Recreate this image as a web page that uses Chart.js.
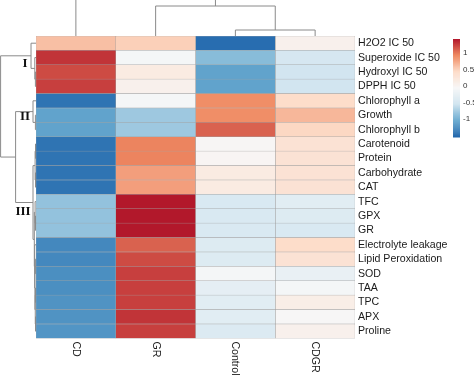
<!DOCTYPE html>
<html>
<head>
<meta charset="utf-8">
<script src="https://cdn.jsdelivr.net/npm/chart.js@4.4.0/dist/chart.umd.min.js"></script>
<style>
  html, body { margin: 0; padding: 0; background: #fff; }
</style>
</head>
<body>
<canvas id="heatmap" width="474" height="375"></canvas>
<script>
const rowLabels = [
  "H2O2 IC 50", "Superoxide IC 50", "Hydroxyl IC 50", "DPPH IC 50",
  "Chlorophyll a", "Growth", "Chlorophyll b", "Carotenoid", "Protein",
  "Carbohydrate", "CAT", "TFC", "GPX", "GR", "Electrolyte leakage",
  "Lipid Peroxidation", "SOD", "TAA", "TPC", "APX", "Proline"
];
const colLabels = ["CD", "GR", "Control", "CDGR"];

// scaled values, one array per column
const cdValues = [0.6, 1.3, 1.2, 1.25, -1.45, -1.1, -1.1, -1.45, -1.45, -1.45, -1.45,
  -0.85, -0.85, -0.85, -1.3, -1.3, -1.25, -1.25, -1.22, -1.22, -1.2];
const grValues = [0.5, -0.1, 0.15, 0.05, -0.1, -0.8, -0.8, 0.95, 0.95, 0.8, 0.8,
  1.42, 1.42, 1.42, 1.1, 1.2, 1.25, 1.25, 1.25, 1.3, 1.25];
const controlValues = [-1.5, -0.9, -1.1, -1.1, 0.9, 0.9, 1.1, -0.03, -0.02, 0.15, 0.15,
  -0.45, -0.45, -0.45, -0.4, -0.4, -0.1, -0.3, -0.35, -0.35, -0.42];
const cdgrValues = [0.05, -0.5, -0.55, -0.55, 0.4, 0.65, 0.45, 0.3, 0.3, 0.3, 0.3,
  -0.35, -0.4, -0.45, 0.4, 0.3, -0.25, -0.1, 0.1, -0.05, 0.05];

const legendTicks = [1, 0.5, 0, -0.5, -1];
const valueMin = -1.55;
const valueMax = 1.42;

// clustering trees: [left, right, height], leaves are indices
const colTree = [0, [1, [2, 3, 1.0], 5.0], 6.3];
const rowTree = [
  [0, [1, [2, 3, 0.1], 0.2], 0.83],
  [
    [4, [5, 6, 0.1], 0.5],
    [
      [[7, 8, 0.08], [9, 10, 0.08], 0.15],
      [
        [11, [12, 13, 0.08], 0.15],
        [14, [[15, 16, 0.1], [[17, 18, 0.08], [19, 20, 0.08], 0.12], 0.18], 0.22],
        0.28
      ],
      0.5
    ],
    3.4
  ],
  5.9
];

const palette = ["#2166AC", "#67A9CF", "#D1E5F0", "#F7F7F7", "#FDDBC7", "#EF8A62", "#B2182B"];

function hexToRgb(h) {
  return [parseInt(h.slice(1, 3), 16), parseInt(h.slice(3, 5), 16), parseInt(h.slice(5, 7), 16)];
}

function valueColor(v) {
  let t = (v - valueMin) / (valueMax - valueMin);
  t = Math.max(0, Math.min(1, t));
  const pos = t * (palette.length - 1);
  const i = Math.min(Math.floor(pos), palette.length - 2);
  const f = pos - i;
  const a = hexToRgb(palette[i]), b = hexToRgb(palette[i + 1]);
  const c = a.map((x, k) => Math.round(x + (b[k] - x) * f));
  return "rgb(" + c.join(",") + ")";
}

const columns = [cdValues, grValues, controlValues, cdgrValues];
const textFont = "Liberation Sans";

// draws a dendrogram, returns position of the node
function drawTree(ctx, node, leafPos, hPos) {
  if (typeof node === "number") return { p: leafPos(node), h: 0 };
  const a = drawTree(ctx, node[0], leafPos, hPos);
  const b = drawTree(ctx, node[1], leafPos, hPos);
  const h = node[2];
  ctx.beginPath();
  const seg = (p1, h1, p2, h2) => {
    const s = hPos(p1, h1), e = hPos(p2, h2);
    ctx.moveTo(s[0], s[1]);
    ctx.lineTo(e[0], e[1]);
  };
  seg(a.p, h, b.p, h);
  seg(a.p, h, a.p, a.h);
  seg(b.p, h, b.p, b.h);
  ctx.stroke();
  return { p: (a.p + b.p) / 2, h: h };
}

const extras = {
  id: "extras",
  afterDraw(chart) {
    const ctx = chart.ctx;
    const area = chart.chartArea;
    const xs = chart.scales.x, ys = chart.scales.y;
    ctx.save();

    // dendrograms
    ctx.strokeStyle = "#8a8a8a";
    ctx.lineWidth = 1;
    const k = 6;
    drawTree(ctx, colTree,
      (i) => xs.getPixelForValue(i + 0.5),
      (p, h) => [p, area.top - h * k]);
    drawTree(ctx, rowTree,
      (i) => ys.getPixelForValue(i),
      (p, h) => [area.left - h * k, p]);

    // cluster numerals
    ctx.fillStyle = "#111";
    ctx.font = "bold 13px 'Liberation Serif'";
    ctx.textAlign = "center";
    ctx.textBaseline = "middle";
    ctx.fillText("I", 25, ys.getPixelForValue(1.4));
    ctx.fillText("II", 25, ys.getPixelForValue(5.1));
    ctx.fillText("III", 23, ys.getPixelForValue(11.7));

    // column labels
    ctx.fillStyle = "#1a1a1a";
    ctx.font = "10.6px '" + textFont + "'";
    ctx.textAlign = "left";
    colLabels.forEach((lab, j) => {
      ctx.save();
      ctx.translate(xs.getPixelForValue(j + 0.5), area.bottom + 3);
      ctx.rotate(Math.PI / 2);
      ctx.fillText(lab, 0, 0);
      ctx.restore();
    });

    // colour key
    const kx = 453, ky = 39, kw = 7, kh = 98;
    const steps = 100;
    for (let s = 0; s < steps; s++) {
      const v = valueMax - (s + 0.5) / steps * (valueMax - valueMin);
      ctx.fillStyle = valueColor(v);
      ctx.fillRect(kx, ky + s * kh / steps, kw, kh / steps + 0.5);
    }
    ctx.fillStyle = "#333";
    ctx.font = "8px '" + textFont + "'";
    ctx.textAlign = "left";
    legendTicks.forEach((t) => {
      const y = ky + (valueMax - t) / (valueMax - valueMin) * kh;
      ctx.fillText(String(t), kx + 10, y);
    });
    ctx.restore();
  }
};

const config = {
  type: "bar",
  data: {
    labels: rowLabels,
    datasets: columns.map((vals, j) => ({
      label: colLabels[j],
      data: vals.map(() => [j, j + 1]),
      backgroundColor: vals.map(valueColor),
      borderColor: "#a3a3a3",
      borderWidth: 0.5,
      borderSkipped: false,
      barPercentage: 1,
      categoryPercentage: 1,
    })),
  },
  options: {
    indexAxis: "y",
    responsive: false,
    animation: false,
    grouped: false,
    layout: { padding: { left: 36, top: 36, right: 0, bottom: 0 } },
    scales: {
      x: {
        type: "linear",
        min: 0,
        max: 4,
        grid: { display: false, drawTicks: false },
        border: { display: false },
        ticks: { display: false },
        afterFit: (s) => { s.height = 36.6; },
      },
      y: {
        position: "right",
        offset: true,
        grid: { display: false, drawTicks: false },
        border: { display: false },
        ticks: {
          autoSkip: false,
          padding: 3,
          color: "#1a1a1a",
          font: { family: textFont, size: 10.6 },
        },
        afterFit: (s) => { s.width = 119; },
      },
    },
    plugins: {
      legend: { display: false },
      tooltip: { enabled: false },
    },
  },
  plugins: [extras],
};

new Chart(document.getElementById("heatmap"), config);
</script>
</body>
</html>
